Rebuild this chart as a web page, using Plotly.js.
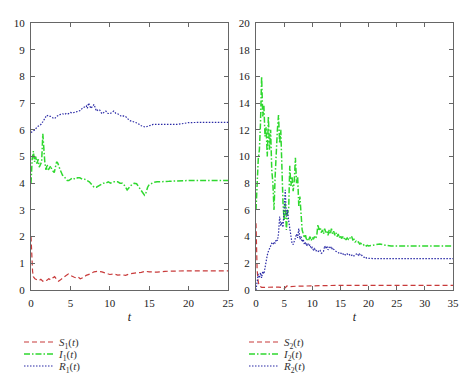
<!DOCTYPE html>
<html><head><meta charset="utf-8">
<script src="https://cdn.plot.ly/plotly-3.0.1.min.js"></script>
<style>html,body{margin:0;padding:0;background:#fff}#c{width:474px;height:391px}</style>
</head><body><div id="c"></div>
<script>
// Panel 1 series: [t, value]
const S1 = [[0,2.0],[0.1,1.2],[0.2,0.7],[0.3,0.5],[0.5,0.42],[0.75,0.38],[1,0.35],[1.25,0.4],[1.5,0.33],[1.75,0.38],[2,0.36],[2.25,0.42],[2.5,0.38],[2.75,0.45],[3,0.5],[3.25,0.4],[3.5,0.33],[3.75,0.38],[4,0.45],[4.25,0.5],[4.5,0.55],[4.75,0.6],[5,0.55],[5.25,0.5],[5.5,0.48],[5.75,0.45],[6,0.48],[6.25,0.42],[6.5,0.45],[6.75,0.48],[7,0.55],[7.5,0.6],[8,0.68],[8.5,0.7],[9,0.68],[9.5,0.62],[10,0.58],[10.5,0.6],[11,0.56],[11.5,0.57],[12,0.55],[12.5,0.6],[13,0.63],[13.5,0.65],[14,0.66],[14.5,0.7],[15,0.68],[16,0.67],[17,0.7],[18,0.71],[19,0.72],[20,0.72],[22,0.72],[25,0.72]];
const I1 = [[0,4.0],[0.15,4.9],[0.3,5.2],[0.45,4.8],[0.6,5.0],[0.75,4.7],[0.9,4.9],[1.05,4.6],[1.2,4.7],[1.35,4.8],[1.5,5.85],[1.6,5.3],[1.75,4.8],[1.9,4.5],[2.05,4.7],[2.2,4.5],[2.35,4.6],[2.5,4.65],[2.65,4.5],[2.8,4.45],[2.95,4.4],[3.1,4.6],[3.25,4.8],[3.4,4.75],[3.55,4.6],[3.7,4.5],[3.85,4.4],[4.0,4.3],[4.2,4.25],[4.4,4.15],[4.6,4.1],[4.8,4.1],[5.0,4.15],[5.3,4.2],[5.6,4.15],[5.9,4.2],[6.2,4.2],[6.5,4.15],[6.8,4.15],[7.1,4.1],[7.4,4.05],[7.7,3.95],[8.0,3.85],[8.3,3.85],[8.6,3.9],[8.9,3.95],[9.2,4.0],[9.5,4.0],[9.8,4.05],[10.1,4.0],[10.4,4.05],[10.7,4.05],[11.0,4.05],[11.3,4.0],[11.6,4.0],[11.9,3.9],[12.2,3.75],[12.5,3.85],[12.8,3.95],[13.1,4.0],[13.4,3.98],[13.7,3.85],[14.0,3.7],[14.2,3.6],[14.4,3.55],[14.6,3.65],[14.8,3.85],[15.0,3.95],[15.3,4.0],[15.6,4.03],[16,4.05],[16.5,4.05],[17,4.05],[17.5,4.07],[18,4.08],[19,4.1],[20,4.1],[22,4.1],[25,4.1]];
const R1 = [[0,5.9],[0.25,5.95],[0.5,6.0],[0.75,6.1],[1,6.15],[1.25,6.2],[1.5,6.3],[1.75,6.45],[2,6.55],[2.25,6.5],[2.5,6.5],[2.75,6.45],[3,6.42],[3.25,6.5],[3.5,6.55],[3.75,6.58],[4,6.6],[4.25,6.57],[4.5,6.62],[4.75,6.6],[5,6.65],[5.25,6.63],[5.5,6.65],[5.75,6.68],[6,6.7],[6.25,6.72],[6.5,6.8],[6.75,6.85],[7,6.9],[7.15,6.8],[7.3,7.0],[7.6,6.8],[7.8,6.9],[8,6.95],[8.3,6.7],[8.5,6.75],[8.7,6.75],[9,6.6],[9.25,6.65],[9.5,6.7],[9.75,6.62],[10,6.6],[10.25,6.65],[10.5,6.7],[10.75,6.62],[11,6.6],[11.25,6.55],[11.5,6.5],[11.75,6.52],[12,6.5],[12.25,6.42],[12.5,6.35],[13,6.3],[13.5,6.25],[14,6.15],[14.5,6.1],[15,6.15],[15.5,6.2],[16,6.2],[16.5,6.2],[17,6.18],[17.5,6.2],[18,6.2],[18.5,6.2],[19,6.22],[20,6.27],[22,6.28],[25,6.28]];

// Panel 2 series: [t, value]
const S2 = [[0,5.0],[0.1,3.0],[0.2,1.5],[0.4,0.6],[0.6,0.3],[1,0.2],[2,0.22],[3,0.25],[4,0.22],[4.5,0.2],[5,0.1],[5.5,0.3],[6,0.25],[7,0.28],[8,0.3],[10,0.32],[12,0.33],[15,0.35],[20,0.35],[35,0.35]];
const I2 = [[0,6.0],[0.2,8.5],[0.4,9.8],[0.6,10.5],[0.8,12.5],[1.0,16.0],[1.2,13.0],[1.4,13.8],[1.6,11.5],[1.8,12.2],[2.0,10.0],[2.2,13.0],[2.4,10.5],[2.6,12.0],[2.8,9.0],[3.0,8.0],[3.2,6.0],[3.4,8.5],[3.6,11.0],[3.8,12.0],[4.0,13.1],[4.2,11.0],[4.4,12.0],[4.6,8.0],[4.8,6.5],[5.0,5.2],[5.2,6.5],[5.4,4.5],[5.6,5.8],[5.8,6.0],[6.0,9.3],[6.2,7.8],[6.4,8.5],[6.6,7.4],[6.8,8.2],[7.0,9.9],[7.2,8.0],[7.4,8.5],[7.6,6.3],[7.8,7.0],[8.0,5.5],[8.2,4.5],[8.4,4.2],[8.6,3.9],[8.8,4.1],[9.0,3.7],[9.2,3.9],[9.4,3.8],[9.6,4.0],[9.8,3.7],[10.0,3.95],[10.2,3.8],[10.4,4.0],[10.6,3.85],[10.8,4.1],[11.0,4.9],[11.2,4.5],[11.4,4.7],[11.6,4.3],[11.8,4.5],[12.0,4.2],[12.2,4.6],[12.4,4.3],[12.6,4.4],[12.8,4.1],[13.0,4.5],[13.2,4.2],[13.4,4.6],[13.6,4.2],[13.8,4.4],[14.0,4.1],[14.2,4.3],[14.4,4.0],[14.6,4.2],[14.8,3.9],[15.0,4.1],[15.2,3.85],[15.4,4.0],[15.6,3.8],[15.8,3.95],[16.0,3.75],[16.2,3.9],[16.4,3.8],[16.6,3.95],[16.8,3.85],[17.0,4.0],[17.2,3.75],[17.4,3.8],[17.6,3.6],[17.8,3.65],[18.0,3.55],[18.2,3.6],[18.4,3.45],[18.6,3.5],[18.8,3.4],[19.0,3.45],[19.2,3.35],[19.4,3.4],[19.6,3.3],[19.8,3.35],[20.0,3.3],[21,3.35],[22,3.45],[23,3.35],[24,3.3],[35,3.3]];
const R2 = [[0,0.0],[0.2,0.6],[0.4,1.2],[0.6,0.9],[0.8,1.3],[1.0,0.9],[1.2,1.4],[1.4,1.2],[1.6,1.8],[1.8,2.2],[2.0,2.6],[2.2,2.9],[2.4,3.2],[2.6,3.3],[2.8,3.5],[3.0,3.4],[3.2,3.6],[3.4,3.5],[3.6,3.8],[3.8,3.7],[4.0,4.2],[4.2,5.5],[4.4,4.8],[4.6,5.1],[4.8,4.7],[5.0,6.0],[5.2,7.5],[5.4,5.5],[5.6,6.0],[5.8,5.2],[6.0,4.5],[6.2,3.8],[6.4,3.5],[6.6,3.4],[6.8,3.6],[7.0,3.9],[7.2,4.2],[7.4,3.9],[7.6,4.6],[7.8,3.8],[8.0,4.0],[8.2,3.6],[8.4,3.8],[8.6,3.4],[8.8,3.6],[9.0,3.3],[9.2,3.5],[9.4,3.3],[9.6,3.4],[9.8,3.1],[10.0,3.2],[10.2,3.0],[10.4,3.1],[10.6,2.9],[10.8,3.0],[11.0,2.9],[11.2,2.85],[11.4,2.95],[11.6,2.75],[11.8,2.8],[12.0,2.9],[12.2,3.3],[12.4,3.1],[12.6,3.3],[12.8,3.0],[13.0,3.2],[13.2,3.1],[13.4,3.25],[13.6,3.0],[13.8,3.05],[14.0,2.95],[14.2,2.9],[14.4,2.85],[14.6,2.8],[14.8,2.75],[15.0,2.8],[15.2,2.7],[15.4,2.75],[15.6,2.6],[15.8,2.65],[16.0,2.6],[16.2,2.7],[16.4,2.6],[16.6,2.65],[16.8,2.55],[17.0,2.6],[17.2,2.65],[17.4,2.55],[17.6,2.6],[17.8,2.7],[18.0,2.75],[18.2,2.6],[18.4,2.7],[18.6,2.55],[18.8,2.6],[19.0,2.5],[19.2,2.45],[19.4,2.5],[19.6,2.4],[19.8,2.42],[20.0,2.38],[21,2.35],[35,2.35]];

const names1 = ['<i>S</i><sub>1</sub>(<i>t</i>)','<i>I</i><sub>1</sub>(<i>t</i>)','<i>R</i><sub>1</sub>(<i>t</i>)'];
const names2 = ['<i>S</i><sub>2</sub>(<i>t</i>)','<i>I</i><sub>2</sub>(<i>t</i>)','<i>R</i><sub>2</sub>(<i>t</i>)'];
const xTicks1 = [0,5,10,15,20,25];
const xTicks2 = [0,5,10,15,20,25,30,35];
const yTicks1 = [0,1,2,3,4,5,6,7,8,9,10];
const yTicks2 = [0,2,4,6,8,10,12,14,16,18,20];

const colors = ['#c83a3a','#2fd82f','#2a2aa6'];
const dashes = ['5px,3px','6px,2px,1.5px,2px','1.5px,1.5px'];
const serif = 'Liberation Serif';

const legY = [342, 354, 366];
function tr(d, name, i, xa, ya, leg){
  return {x:d.map(p=>p[0]), y:d.map(p=>p[1]), name:name, type:'scatter', mode:'lines',
    xaxis:xa, yaxis:ya, legend:leg,
    line:{color:colors[i], dash:dashes[i], width: i===1 ? 1.5 : 1.2}};
}
const data = [
  tr(S1,names1[0],0,'x','y','legend'), tr(I1,names1[1],1,'x','y','legend2'), tr(R1,names1[2],2,'x','y','legend3'),
  tr(S2,names2[0],0,'x2','y2','legend4'), tr(I2,names2[1],1,'x2','y2','legend5'), tr(R2,names2[2],2,'x2','y2','legend6')
];
const ax = {showline:true, mirror:'ticks', linecolor:'#666', linewidth:1, ticks:'inside', ticklen:4,
  tickcolor:'#666', showgrid:false, zeroline:false, tickfont:{family:serif, size:11, color:'#222'},
  ticklabelstandoff:3, fixedrange:true};
const yb = (391-290)/391, yt = (391-23)/391;
function leg(xpx, ypx){
  return {x:xpx/474, y:(391-ypx)/391, xanchor:'left', yanchor:'middle', bgcolor:'rgba(0,0,0,0)',
    font:{family:serif,size:11,color:'#333'}, itemwidth:30, borderwidth:0};
}
const layout = {
  width:474, height:391, margin:{l:0,r:0,t:0,b:0}, paper_bgcolor:'#fff', plot_bgcolor:'#fff',
  font:{family:serif, color:'#222'},
  xaxis:Object.assign({}, ax, {domain:[31/474,228/474], range:[0,25], tickvals:xTicks1, anchor:'y',
    title:{text:'<i>t</i>', font:{family:serif,size:12}, standoff:4}}),
  yaxis:Object.assign({}, ax, {domain:[yb,yt], range:[0,10], tickvals:yTicks1, anchor:'x'}),
  xaxis2:Object.assign({}, ax, {domain:[256/474,453/474], range:[0,35], tickvals:xTicks2, anchor:'y2',
    title:{text:'<i>t</i>', font:{family:serif,size:12}, standoff:4}}),
  yaxis2:Object.assign({}, ax, {domain:[yb,yt], range:[0,20], tickvals:yTicks2, anchor:'x2'}),
  legend:leg(19, legY[0]), legend2:leg(19, legY[1]), legend3:leg(19, legY[2]),
  legend4:leg(244, legY[0]), legend5:leg(244, legY[1]), legend6:leg(244, legY[2]),
  showlegend:true
};
Plotly.newPlot('c', data, layout, {displayModeBar:false, staticPlot:true});
</script></body></html>
